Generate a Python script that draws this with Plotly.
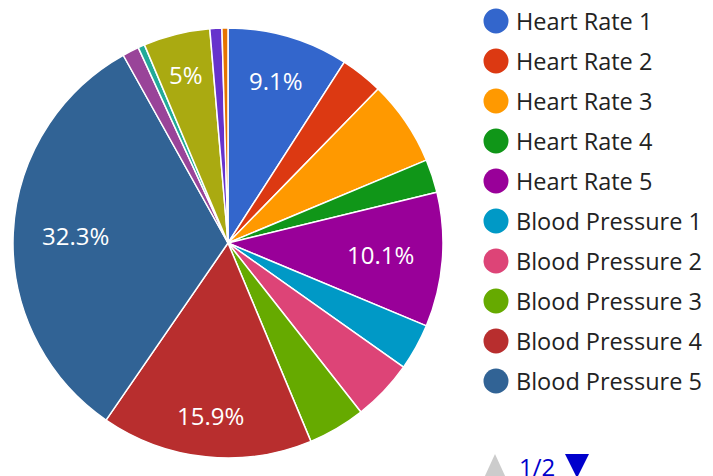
import math
import plotly.graph_objects as go

labels = ["Heart Rate 1", "Heart Rate 2", "Heart Rate 3", "Heart Rate 4", "Heart Rate 5",
          "Blood Pressure 1", "Blood Pressure 2", "Blood Pressure 3", "Blood Pressure 4", "Blood Pressure 5",
          "Temperature 1", "Temperature 2", "Temperature 3", "Temperature 4", "Temperature 5"]
values = [9.1, 3.2, 6.4, 2.5, 10.1, 3.5, 4.6, 4.3, 15.9, 32.3, 1.25, 0.5, 5.0, 0.9, 0.45]
colors = ["#3366cc", "#dc3912", "#ff9900", "#109618", "#990099", "#0099c6", "#dd4477",
          "#66aa00", "#b82e2e", "#316395", "#994499", "#22aa99", "#aaaa11", "#6633cc", "#e67300"]
show_pct = [True, False, False, False, True, False, False, False, True, True,
            False, False, True, False, False]
legend_page_size = 10
page_text = "1/2"

# page has an 8px body margin; work in page pixels and convert
OFF = 8
W, H = 713 - OFF, 476 - OFF
FONT = "Open Sans"


def fx(px):
    return (px - OFF) / W


def fy(py):
    return 1 - (py - OFF) / H


# pie geometry (page pixels)
cx, cy, R = 228, 243, 215

fig = go.Figure(go.Pie(
    labels=labels, values=values, sort=False, direction="clockwise", rotation=0,
    marker=dict(colors=colors, line=dict(color="white", width=1.5)),
    textinfo="none", showlegend=False, hoverinfo="label+percent",
    domain=dict(x=[fx(cx - R), fx(cx + R)], y=[fy(cy + R), fy(cy - R)]),
))

annotations = []
shapes = []

# percentage labels
total = sum(values)
cum = 0.0
fs = 24
for v, s in zip(values, show_pct):
    mid = (cum + v / 2) / total * 2 * math.pi
    cum += v
    if not s:
        continue
    p = round(v / total * 100, 1)
    txt = f"{p:g}%"
    hw = 0.28 * fs * len(txt)
    hh = 0.42 * fs
    d = 0.87 * R - (hw * abs(math.sin(mid)) + hh * abs(math.cos(mid)))
    px = cx + d * math.sin(mid)
    py = cy - d * math.cos(mid)
    annotations.append(dict(x=fx(px), y=fy(py), xref="paper", yref="paper", text=txt,
                            showarrow=False, font=dict(family=FONT, size=fs, color="white"),
                            xanchor="center", yanchor="middle"))

# legend (page 1)
lx, ly0, step = 496, 21, 40
for i, (lab, col) in enumerate(zip(labels[:legend_page_size], colors[:legend_page_size])):
    y = fy(ly0 + i * step)
    shapes.append(dict(type="circle", xref="paper", yref="paper", xsizemode="pixel", ysizemode="pixel",
                       xanchor=fx(lx), yanchor=y, x0=-12.5, x1=12.5, y0=-12.5, y1=12.5,
                       fillcolor=col, line=dict(width=0)))
    annotations.append(dict(x=fx(lx + 18), y=y, xref="paper", yref="paper", text=lab, showarrow=False,
                            xanchor="left", yanchor="middle",
                            font=dict(family=FONT, size=23.5, color="#222222")))

# pager
pyy = fy(466)
shapes.append(dict(type="path", xref="paper", yref="paper", xsizemode="pixel", ysizemode="pixel",
                   xanchor=fx(495), yanchor=pyy, path="M -11 -12 L 11 -12 L 0 12 Z",
                   fillcolor="#cccccc", line=dict(width=0)))
shapes.append(dict(type="path", xref="paper", yref="paper", xsizemode="pixel", ysizemode="pixel",
                   xanchor=fx(577), yanchor=pyy, path="M -12 12 L 12 12 L 0 -12 Z",
                   fillcolor="#0000cc", line=dict(width=0)))
annotations.append(dict(x=fx(537), y=pyy, xref="paper", yref="paper", text=page_text, showarrow=False,
                        xanchor="center", yanchor="middle",
                        font=dict(family=FONT, size=24, color="#0000cc")))

fig.update_layout(width=W, height=H, margin=dict(l=0, r=0, t=0, b=0),
                  paper_bgcolor="white", plot_bgcolor="white",
                  annotations=annotations, shapes=shapes, showlegend=False,
                  font=dict(family=FONT))
fig.write_html("out.html")
